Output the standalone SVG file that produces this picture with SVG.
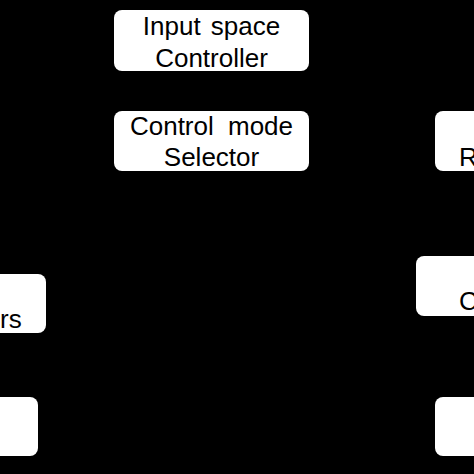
<svg xmlns="http://www.w3.org/2000/svg" width="474" height="474" viewBox="0 0 474 474">
<style>
.box{fill:#fff;stroke:none}
.t{font-family:"Liberation Sans",Arial,sans-serif;font-size:26px;fill:#000}
.c{text-anchor:middle}
</style>
<rect width="474" height="474" fill="#000"/>
<g id="connectors"></g>
<g id="input-space-controller">
<rect class="box" x="114" y="10" width="195" height="61" rx="8"/>
<text class="t c" x="211.5" y="35" word-spacing="3">Input space</text>
<text class="t c" x="211.5" y="67">Controller</text>
</g>
<g id="control-mode-selector">
<rect class="box" x="114" y="111" width="195" height="60" rx="8"/>
<text class="t c" x="211.5" y="135" word-spacing="7">Control mode</text>
<text class="t c" x="211.5" y="166">Selector</text>
</g>
<g id="left-middle">
<rect class="box" x="-20" y="274" width="66" height="59" rx="8"/>
<text class="t" x="0" y="328">rs</text>
</g>
<g id="left-bottom">
<rect class="box" x="-20" y="397" width="58" height="59" rx="8"/>
</g>
<g id="right-top">
<rect class="box" x="435" y="111" width="60" height="60" rx="8"/>
<text class="t" x="459" y="166">R</text>
</g>
<g id="right-middle">
<rect class="box" x="416" y="256" width="80" height="60" rx="8"/>
<text class="t" x="459" y="310">C</text>
</g>
<g id="right-bottom">
<rect class="box" x="435" y="397" width="60" height="59" rx="8"/>
</g>
</svg>
